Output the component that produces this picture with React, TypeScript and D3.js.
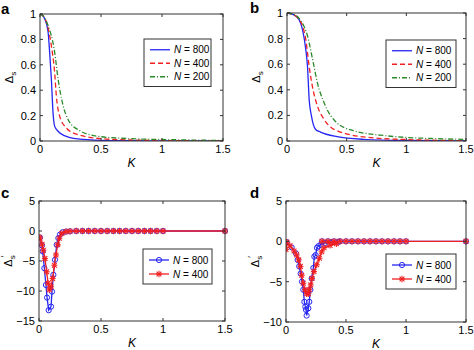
import React from "react";
import * as d3 from "d3";

// ---- data ----
// panel a: Δs vs K
const aK800 = [0, 0.02, 0.038, 0.066, 0.079, 0.093, 0.107, 0.12, 0.148, 0.2, 0.31, 0.5, 0.75, 1.0, 1.5];
const aV800 = [1, 0.99, 0.963, 0.86, 0.7, 0.49, 0.22, 0.117, 0.077, 0.042, 0.016, 0.005, 0.002, 0.001, 0];
const aK400 = [0, 0.02, 0.052, 0.093, 0.12, 0.134, 0.161, 0.216, 0.31, 0.53, 0.75, 1.0, 1.5];
const aV400 = [1, 0.99, 0.94, 0.75, 0.54, 0.355, 0.196, 0.103, 0.05, 0.016, 0.008, 0.004, 0.001];
const aK200 = [0, 0.02, 0.066, 0.12, 0.148, 0.189, 0.23, 0.31, 0.475, 0.75, 1.0, 1.5];
const aV200 = [1, 0.99, 0.91, 0.7, 0.49, 0.28, 0.17, 0.09, 0.037, 0.018, 0.012, 0.004];

// panel b
const bK800 = [0, 0.05, 0.1, 0.13, 0.158, 0.172, 0.186, 0.205, 0.24, 0.28, 0.42, 0.64, 0.98, 1.5];
const bV800 = [1, 0.99, 0.95, 0.87, 0.71, 0.58, 0.32, 0.195, 0.09, 0.07, 0.034, 0.013, 0.004, 0.001];
const bK400 = [0, 0.05, 0.1, 0.13, 0.158, 0.186, 0.214, 0.256, 0.31, 0.42, 0.7, 0.98, 1.5];
const bV400 = [1, 0.99, 0.95, 0.9, 0.79, 0.58, 0.42, 0.27, 0.17, 0.08, 0.026, 0.012, 0.003];
const bK200 = [0, 0.05, 0.1, 0.14, 0.172, 0.214, 0.256, 0.31, 0.42, 0.56, 0.84, 1.26, 1.5];
const bV200 = [1, 0.99, 0.96, 0.9, 0.82, 0.64, 0.45, 0.3, 0.14, 0.08, 0.04, 0.018, 0.013];

// tail of the K grid used in c and d
const tailK = [0.3, 0.35, 0.4, 0.45, 0.5, 0.55, 0.6, 0.65, 0.7, 0.75, 0.8, 0.85, 0.9, 0.95, 1.0, 1.5];
const tailV = [0, 0, 0, 0, 0, 0, 0, 0, 0, 0, 0, 0, 0, 0, 0, 0];

// panel c: Δs' vs K
const cK800 = [0.008, 0.024, 0.03, 0.043, 0.056, 0.065, 0.078, 0.097, 0.105, 0.116, 0.129, 0.143, 0.156, 0.169, 0.191, 0.218, 0.25];
const cV800 = [-1.1, -2.4, -3.4, -6.2, -9, -11.1, -13.2, -12.6, -10.1, -7.3, -4.8, -2.3, -1.2, -0.6, -0.2, -0.1, -0.05];
const cK400 = [0.008, 0.024, 0.035, 0.048, 0.062, 0.073, 0.083, 0.097, 0.11, 0.124, 0.137, 0.151, 0.164, 0.185, 0.218, 0.25];
const cV400 = [-1.2, -2.2, -3.2, -4.6, -6.8, -8.7, -9.8, -9.3, -7.9, -5.7, -4, -2.3, -1.2, -0.4, -0.1, -0.05];

// panel d
const dK800 = [0.006, 0.047, 0.083, 0.097, 0.11, 0.122, 0.133, 0.144, 0.153, 0.161, 0.167, 0.172, 0.186, 0.194, 0.203, 0.214, 0.228, 0.236, 0.247, 0.258, 0.27, 0.29, 0.325, 0.38, 0.436];
const dV800 = [-0.1, -0.75, -1.5, -2.3, -3.1, -4, -5, -6, -7.5, -8.1, -8.5, -9.2, -8.3, -7.5, -6, -4.6, -3.3, -1.9, -1.7, -0.8, -0.6, -0.4, -0.2, -0.1, -0.05];
const dK400 = [0.006, 0.033, 0.067, 0.089, 0.106, 0.12, 0.131, 0.144, 0.158, 0.172, 0.186, 0.194, 0.206, 0.217, 0.233, 0.256, 0.278, 0.297, 0.317, 0.367, 0.42];
const dV400 = [-0.1, -0.55, -1.2, -1.7, -2.3, -3.1, -4.2, -5.2, -6, -6.5, -6.5, -6, -5.4, -4.6, -3.75, -2.9, -2.1, -1.3, -0.8, -0.5, -0.3];

const xTicks = [0, 0.5, 1, 1.5];
const yTicksAB = [0, 0.2, 0.4, 0.6, 0.8, 1];
const yTicksC = [-15, -10, -5, 0, 5];
const yTicksD = [-10, -5, 0, 5];

const BLUE = "#2626f2";
const RED = "#f22020";
const GREEN = "#2a8a2a";
const FONT = "'Liberation Sans', Arial, Helvetica, sans-serif";

type Series = { k: number[]; v: number[]; color: string; dash?: string; marker?: "o" | "*"; label: string; smooth?: boolean };

const zipPts = (k: number[], v: number[]) => k.map((x, i) => [x, v[i]] as [number, number]);

const Marker = ({ type, x, y, color }: { type: "o" | "*"; x: number; y: number; color: string }) =>
  type === "o" ? (
    <circle cx={x} cy={y} r={2.6} fill="none" stroke={color} strokeWidth={1} />
  ) : (
    <g stroke={color} strokeWidth={1.1}>
      <line x1={x - 3} y1={y} x2={x + 3} y2={y} />
      <line x1={x} y1={y - 3.2} x2={x} y2={y + 3.2} />
      <line x1={x - 2.4} y1={y - 2.4} x2={x + 2.4} y2={y + 2.4} />
      <line x1={x - 2.4} y1={y + 2.4} x2={x + 2.4} y2={y - 2.4} />
    </g>
  );

interface PanelProps {
  letter: string;
  letterX: number;
  letterY: number;
  left: number;
  right: number;
  top: number;
  bottom: number;
  yDomain: [number, number];
  yTicks: number[];
  series: Series[];
  prime?: boolean;
  legend: { x: number; y: number; w: number; rowH: number };
}

const Panel = (p: PanelProps) => {
  const x = d3.scaleLinear().domain([0, 1.5]).range([p.left, p.right]);
  const y = d3.scaleLinear().domain(p.yDomain).range([p.bottom, p.top]);
  const tl = 3;
  const cx = (p.left + p.right) / 2;
  const cy = (p.top + p.bottom) / 2;
  return (
    <g fontFamily={FONT}>
      <text x={p.letterX} y={p.letterY} fontSize={15} fontWeight="bold">{p.letter}</text>
      <defs>
        <clipPath id={"clip" + p.letter}>
          <rect x={p.left} y={p.top - 4} width={p.right - p.left + 4} height={p.bottom - p.top + 4} />
        </clipPath>
      </defs>
      <rect x={p.left} y={p.top} width={p.right - p.left} height={p.bottom - p.top} fill="white" />
      <g clipPath={`url(#clip${p.letter})`}>
        {p.series.map((s, i) => {
          const pts = zipPts(s.k, s.v);
          const line = d3
            .line<[number, number]>()
            .x((d) => x(d[0]))
            .y((d) => y(d[1]))
            .curve(s.smooth ? d3.curveMonotoneX : d3.curveLinear);
          return (
            <g key={i}>
              <path d={line(pts) || ""} fill="none" stroke={s.color} strokeWidth={1.3} strokeDasharray={s.dash} />
              {s.marker && pts.map((d, j) => <Marker key={j} type={s.marker!} x={x(d[0])} y={y(d[1])} color={s.color} />)}
            </g>
          );
        })}
      </g>
      {/* box and inward ticks */}
      <rect x={p.left} y={p.top} width={p.right - p.left} height={p.bottom - p.top} fill="none" stroke="#333" strokeWidth={1} />
      {xTicks.map((t) => (
        <g key={"x" + t} stroke="#333">
          <line x1={x(t)} x2={x(t)} y1={p.bottom} y2={p.bottom - tl} />
          <line x1={x(t)} x2={x(t)} y1={p.top} y2={p.top + tl} />
        </g>
      ))}
      {p.yTicks.map((t) => (
        <g key={"y" + t} stroke="#333">
          <line x1={p.left} x2={p.left + tl} y1={y(t)} y2={y(t)} />
          <line x1={p.right} x2={p.right - tl} y1={y(t)} y2={y(t)} />
        </g>
      ))}
      {xTicks.map((t) => (
        <text key={"xl" + t} x={x(t)} y={p.bottom + 12} fontSize={11} textAnchor="middle">{String(t)}</text>
      ))}
      {p.yTicks.map((t) => (
        <text key={"yl" + t} x={p.left - 4} y={y(t) + 4} fontSize={11} textAnchor="end">{t < 0 ? "\u2212" + Math.abs(t) : String(t)}</text>
      ))}
      <text x={cx} y={p.bottom + 26} fontSize={12} fontStyle="italic" textAnchor="middle">K</text>
      <text transform={`translate(${p.left - 27},${cy}) rotate(-90)`} fontSize={11} textAnchor="middle">
        {"\u0394"}
        <tspan fontSize={8} dy={3}>s</tspan>
        {p.prime && <tspan fontSize={9} dx={-2} dy={-8}>{"\u2032"}</tspan>}
      </text>
      {/* legend */}
      <rect x={p.legend.x} y={p.legend.y} width={p.legend.w} height={p.legend.rowH * p.series.length + 7} fill="white" stroke="#333" strokeWidth={1} />
      {p.series.map((s, i) => {
        const ry = p.legend.y + 4 + p.legend.rowH * (i + 0.5);
        const lx1 = p.legend.x + 6;
        const lx2 = p.legend.x + 26;
        return (
          <g key={"lg" + i}>
            <line x1={lx1} x2={lx2} y1={ry} y2={ry} stroke={s.color} strokeWidth={1.3} strokeDasharray={s.dash} />
            {s.marker && <Marker type={s.marker} x={(lx1 + lx2) / 2} y={ry} color={s.color} />}
            <text x={lx2 + 4} y={ry + 3.5} fontSize={10}>
              <tspan fontStyle="italic">N</tspan> = {s.label}
            </text>
          </g>
        );
      })}
    </g>
  );
};

export default function App() {
  const abSeries = (k8: number[], v8: number[], k4: number[], v4: number[], k2: number[], v2: number[]): Series[] => [
    { k: k8, v: v8, color: BLUE, label: "800", smooth: true },
    { k: k4, v: v4, color: RED, dash: "5,3", label: "400", smooth: true },
    { k: k2, v: v2, color: GREEN, dash: "5,2,1,2", label: "200", smooth: true },
  ];
  const cdSeries = (k8: number[], v8: number[], k4: number[], v4: number[]): Series[] => [
    { k: [...k8, ...tailK], v: [...v8, ...tailV], color: BLUE, marker: "o", label: "800" },
    { k: [0, ...k4, ...tailK], v: [-1, ...v4, ...tailV], color: RED, marker: "*", label: "400" },
  ];
  return (
    <svg width={474} height={350} style={{ position: "absolute", left: 0, top: 0, background: "white" }}>
      <rect width={474} height={350} fill="white" />
      <Panel letter="a" letterX={1} letterY={14} left={40} right={223} top={14} bottom={141}
        yDomain={[0, 1]} yTicks={yTicksAB} series={abSeries(aK800, aV800, aK400, aV400, aK200, aV200)}
        legend={{ x: 144, y: 39, w: 67, rowH: 13.5 }} />
      <Panel letter="b" letterX={250} letterY={13} left={287} right={466} top={13} bottom={141}
        yDomain={[0, 1]} yTicks={yTicksAB} series={abSeries(bK800, bV800, bK400, bV400, bK200, bV200)}
        legend={{ x: 386, y: 40, w: 70, rowH: 13.5 }} />
      <Panel letter="c" letterX={1} letterY={198} left={39} right={225} top={201} bottom={321}
        yDomain={[-15, 5]} yTicks={yTicksC} series={cdSeries(cK800, cV800, cK400, cV400)} prime
        legend={{ x: 143, y: 249, w: 69, rowH: 14 }} />
      <Panel letter="d" letterX={250} letterY={198} left={286} right={466} top={201} bottom={322}
        yDomain={[-10, 5]} yTicks={yTicksD} series={cdSeries(dK800, dV800, dK400, dV400)} prime
        legend={{ x: 386, y: 254, w: 70, rowH: 14 }} />
    </svg>
  );
}
